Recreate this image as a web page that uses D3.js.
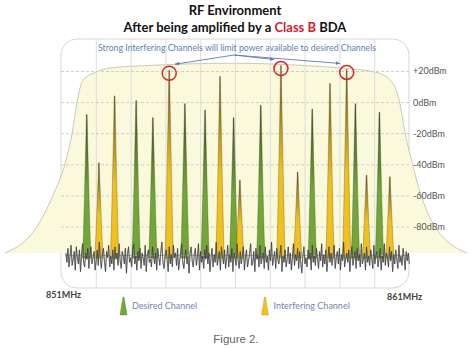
<!DOCTYPE html>
<html>
<head>
<meta charset="utf-8">
<script src="https://cdn.jsdelivr.net/npm/d3@7/dist/d3.min.js"></script>
<style>
  html, body { margin: 0; padding: 0; background: #fff; }
  svg { display: block; }
</style>
</head>
<body>
<svg id="chart" width="474" height="349"></svg>
<script>
// Channel carriers across the 851–861 MHz band (MHz, peak dBm, kind)
const channelFreq = [851.74, 852.09, 852.54, 853.16, 853.64, 854.11, 854.56, 855.14, 855.57, 855.96, 856.14,
                     856.74, 857.32, 857.80, 858.22, 858.73, 859.21, 859.46, 859.78, 860.15, 860.45];
const channelLevel = [-8, -39, 4, 1, -10, 20.5, -1, -5, 16.5, -10, -50,
                      -2, 23.5, -45, -4.5, 12, 21, -1, -47, -6.5, -48];
const channelKind = ["D", "I", "I", "D", "D", "I", "D", "D", "I", "D", "I",
                     "D", "I", "I", "D", "I", "I", "D", "I", "D", "I"];

// Strong interferers that are circled
const strongIdx = [5, 12, 16];

// Amplifier passband envelope (MHz, dBm)
const envFreq = [849.39, 850.31, 850.77, 851.11, 851.32, 851.46, 851.63, 852.03, 852.41, 853.5, 855.94,
                 858.0, 859.02, 860.08, 860.54, 860.74, 860.89, 861.09, 861.32, 861.69, 862.67];
const envLevel = [-97, -80, -60, -40, -20, 0, 14, 19.5, 22, 23.5, 25,
                  23.5, 22, 19, 12, -1, -20, -39, -58, -78, -97];

// Noise floor samples, 851.14 MHz onward in 0.03 MHz steps (dBm)
const noiseStart = 851.14, noiseStep = 0.03;
const noiseLevel = [
  -97,-103,-94,-106,-99,-92,-105,-101,-96,-108,-93,-100,-104,-95,-109,-98,-91,-103,-106,-97,-101,-94,-107,-99,-93,-104,-100,-96,-108,-102,
  -95,-105,-90,-101,-107,-98,-94,-103,-109,-96,-100,-92,-106,-99,-104,-95,-108,-93,-101,-97,-105,-91,-102,-107,-96,-99,-104,-94,-110,-98,
  -93,-103,-100,-106,-95,-91,-104,-99,-108,-96,-102,-94,-107,-97,-100,-105,-92,-109,-98,-95,-103,-101,-106,-93,-99,-104,-97,-108,-94,-100,
  -105,-96,-90,-103,-107,-99,-95,-101,-109,-93,-104,-98,-106,-92,-100,-97,-105,-94,-108,-102,-96,-91,-103,-107,-99,-95,-104,-100,-110,-97,
  -93,-102,-106,-98,-94,-105,-100,-91,-108,-96,-103,-99,-107,-95,-101,-92,-104,-97,-109,-100,-94,-106,-98,-103,-90,-105,-101,-96,-108,-93,
  -99,-104,-95,-107,-101,-92,-106,-98,-103,-94,-109,-97,-100,-105,-91,-102,-107,-96,-104,-99,-93,-108,-100,-95,-106,-102,-97,-91,-105,-103,
  -96,-109,-94,-101,-98,-106,-92,-104,-100,-97,-107,-93,-103,-99,-108,-95,-102,-90,-105,-100,-96,-107,-94,-101,-104,-98,-92,-109,-99,-103,
  -95,-106,-101,-93,-104,-97,-108,-100,-91,-105,-98,-102,-94,-107,-96,-103,-110,-99,-93,-104,-100,-106,-95,-101,-97,-108,-92,-103,-99,-105,
  -94,-100,-107,-96,-102,-91,-106,-98,-104,-95,-109,-101,-93,-103,-97,-105,-99,-92,-107,-100,-96,-104,-94,-108,-98,-102,-90,-106,-101,-97,
  -103,-95,-109,-99,-93,-105,-100,-96,-107,-94,-102,-98,-106,-91,-104,-101,-97,-108,-93,-103,-99,-105,-95,-100,-107,-92,-104,-98,-96,-106,
  -101,-94,-108,-99,-103,-91,-105,-97,-100,-106,-93,-102,-96,-109,-98,-104,-95,-101,-107,-92,-103,-99,-105,-94,-100,-108,-96,-102,-97,-104
];

// Axis ticks
const levelTicks = [20, 0, -20, -40, -60, -80];
const levelLabels = ["+20dBm", "0dBm", "-20dBm", "-40dBm", "-60dBm", "-80dBm"];
const freqGrid = [852, 853, 854, 855, 856, 857, 858, 859, 860];
const freqLabels = ["851MHz", "861MHz"];

const titleLine1 = "RF Environment";
const titleLine2 = ["After being amplified by a ", "Class B", " BDA"];
const noteText = "Strong Interfering Channels will limit power available to desired Channels";
const legendItems = [{ kind: "D", label: "Desired Channel" }, { kind: "I", label: "Interfering Channel" }];
const captionText = "Figure 2.";

const svg = d3.select("#chart");
const plot = { left: 61, right: 409, top: 39, bottom: 288 };

const x = d3.scaleLinear().domain([851, 861]).range([plot.left, plot.right]);
const y = d3.scaleLinear().domain([-97, 20]).range([253, 71]);

const colors = {
  D: { top: "#3f4a25", body: "#72a636", edge: "#587f2c" },
  I: { top: "#5b5020", body: "#f2c01c", edge: "#b39420" }
};

const defs = svg.append("defs");
Object.entries(colors).forEach(([k, c]) => {
  const g = defs.append("linearGradient").attr("id", "grad" + k)
    .attr("x1", 0).attr("y1", 0).attr("x2", 0).attr("y2", 1);
  g.append("stop").attr("offset", "0%").attr("stop-color", c.top);
  g.append("stop").attr("offset", "30%").attr("stop-color", c.edge);
  g.append("stop").attr("offset", "55%").attr("stop-color", c.body);
  g.append("stop").attr("offset", "100%").attr("stop-color", c.body);
});
defs.append("marker").attr("id", "arrow").attr("viewBox", "0 0 10 10")
  .attr("refX", 9).attr("refY", 5).attr("markerWidth", 5).attr("markerHeight", 5)
  .attr("orient", "auto")
  .append("path").attr("d", "M0,1L10,5L0,9Z").attr("fill", "#5a7db8");

// Rounded frame
svg.append("rect")
  .attr("x", plot.left).attr("y", plot.top)
  .attr("width", plot.right - plot.left).attr("height", plot.bottom - plot.top)
  .attr("rx", 16).attr("ry", 16)
  .attr("fill", "none").attr("stroke", "#d6d6d6").attr("stroke-width", 1);

// Passband envelope
const env = envFreq.map((f, i) => [f, envLevel[i]]);
svg.append("path")
  .datum(env)
  .attr("d", d3.area().x(d => x(d[0])).y0(y(-97)).y1(d => y(d[1])).curve(d3.curveMonotoneX))
  .attr("fill", "#fbf9dc");
svg.append("path")
  .datum(env)
  .attr("d", d3.line().x(d => x(d[0])).y(d => y(d[1])).curve(d3.curveMonotoneX))
  .attr("fill", "none").attr("stroke", "#cdc9b6").attr("stroke-width", 1);

// Grid: vertical frequency lines
svg.append("g")
  .attr("transform", `translate(0,${plot.bottom})`)
  .call(d3.axisBottom(x).tickValues(freqGrid).tickSize(-(plot.bottom - plot.top)).tickFormat(""))
  .call(g => g.select(".domain").remove())
  .call(g => g.selectAll("line").attr("stroke", "#dcdcdc").attr("stroke-width", 1));

// Grid: horizontal level lines with labels on the right
svg.append("g")
  .attr("transform", `translate(${plot.right},0)`)
  .call(d3.axisLeft(y).tickValues(levelTicks).tickSize(plot.right - plot.left).tickFormat(""))
  .call(g => g.select(".domain").remove())
  .call(g => g.selectAll("line").attr("stroke", "#cfcfcf").attr("stroke-dasharray", "3,2"));

svg.append("g")
  .attr("transform", `translate(${plot.right},0)`)
  .call(d3.axisRight(y).tickValues(levelTicks).tickSize(0).tickPadding(4)
        .tickFormat((d, i) => levelLabels[i]))
  .call(g => g.select(".domain").remove())
  .call(g => g.selectAll("text")
    .attr("font-family", "Lato, 'Open Sans', sans-serif")
    .attr("font-size", 9).attr("fill", "#555"));

// Channel spikes
function spikePath(f, level) {
  const cx = x(f), top = y(level), base = y(-97) + 5;
  const h = base - top;
  const fr = [0, 0.15, 0.35, 0.6, 0.85, 1];
  const hw = [0.4, 0.8, 1.5, 2.4, 3.4, 4.2];
  const left = fr.map((t, i) => [cx - hw[i], top + t * h]);
  const right = fr.map((t, i) => [cx + hw[i], top + t * h]).reverse();
  return d3.line()(left.concat(right)) + "Z";
}

svg.append("g").selectAll("path")
  .data(channelFreq.map((f, i) => ({ f, level: channelLevel[i], kind: channelKind[i] })))
  .join("path")
  .attr("d", d => spikePath(d.f, d.level))
  .attr("fill", d => `url(#grad${d.kind})`)
  .attr("stroke", d => colors[d.kind].top)
  .attr("stroke-width", 0.5)
  .attr("stroke-opacity", 0.7);

// Noise floor
svg.append("line")
  .attr("x1", x(noiseStart)).attr("x2", plot.right)
  .attr("y1", y(-98.5)).attr("y2", y(-98.5))
  .attr("stroke", "#aaa").attr("stroke-width", 1);
const noise = noiseLevel.map((v, i) => [noiseStart + i * noiseStep, v]);
const noiseLine = d3.line().x(d => x(d[0])).y(d => y(d[1]));
svg.append("path")
  .datum(noise)
  .attr("d", noiseLine)
  .attr("fill", "none").attr("stroke", "#8a8a8a").attr("stroke-width", 1.2).attr("stroke-opacity", 0.6);
svg.append("path")
  .datum(noise)
  .attr("d", noiseLine)
  .attr("fill", "none").attr("stroke", "#2a2a2a").attr("stroke-width", 0.6);

// Circles around the strong interferers and annotation arrows
const origin = [234, 55];
strongIdx.forEach(i => {
  const cx = x(channelFreq[i]), cy = y(channelLevel[i]) + 3;
  svg.append("circle").attr("cx", cx).attr("cy", cy).attr("r", 7)
    .attr("fill", "none").attr("stroke", "#d9262b").attr("stroke-width", 1.5);
  const dx = origin[0] - cx, dy = origin[1] - cy, len = Math.hypot(dx, dy);
  const ex = cx + dx / len * 6 + (dx > 0 ? 0 : -1), ey = cy - 9;
  svg.append("line")
    .attr("x1", origin[0]).attr("y1", origin[1]).attr("x2", ex).attr("y2", ey)
    .attr("stroke", "#5a7db8").attr("stroke-width", 0.9)
    .attr("marker-end", "url(#arrow)");
});

svg.append("text")
  .attr("x", 237).attr("y", 51)
  .attr("text-anchor", "middle")
  .attr("font-family", "Lato, 'Open Sans', sans-serif")
  .attr("font-size", 9)
  .attr("fill", "#5f80b8")
  .attr("textLength", 278).attr("lengthAdjust", "spacingAndGlyphs")
  .text(noteText);

// Titles
const titleFont = "Lato, 'Open Sans', sans-serif";
svg.append("text")
  .attr("x", 235).attr("y", 15).attr("text-anchor", "middle")
  .attr("font-family", titleFont).attr("font-weight", "bold").attr("font-size", 13)
  .attr("fill", "#111")
  .text(titleLine1);
const t2 = svg.append("text")
  .attr("x", 235).attr("y", 32).attr("text-anchor", "middle")
  .attr("font-family", titleFont).attr("font-weight", "bold").attr("font-size", 13)
  .attr("fill", "#111");
titleLine2.forEach((s, i) => t2.append("tspan").attr("fill", i === 1 ? "#d2232a" : "#111").text(s));

// Band edge labels
svg.append("text").attr("x", x(851) - 15).attr("y", 298)
  .attr("font-family", titleFont).attr("font-size", 9).attr("font-weight", "bold").attr("fill", "#444")
  .text(freqLabels[0]);
svg.append("text").attr("x", x(861) - 22).attr("y", 300)
  .attr("font-family", titleFont).attr("font-size", 9).attr("font-weight", "bold").attr("fill", "#444")
  .text(freqLabels[1]);

// Legend
const legendX = [123.5, 265];
legendItems.forEach((item, i) => {
  const lx = legendX[i];
  svg.append("path")
    .attr("d", d3.line()([[lx - 3.5, 315], [lx - 0.5, 297], [lx + 0.5, 297], [lx + 3.5, 315]]) + "Z")
    .attr("fill", colors[item.kind].body)
    .attr("stroke", colors[item.kind].edge).attr("stroke-width", 0.4);
  svg.append("text").attr("x", lx + 8.5).attr("y", 309)
    .attr("font-family", titleFont).attr("font-size", 9).attr("fill", "#7286ad")
    .text(item.label);
});

// Caption
svg.append("text").attr("x", 236).attr("y", 343).attr("text-anchor", "middle")
  .attr("font-family", "'Liberation Sans', Arial, sans-serif").attr("font-size", 11.5).attr("fill", "#666")
  .text(captionText);
</script>
</body>
</html>
